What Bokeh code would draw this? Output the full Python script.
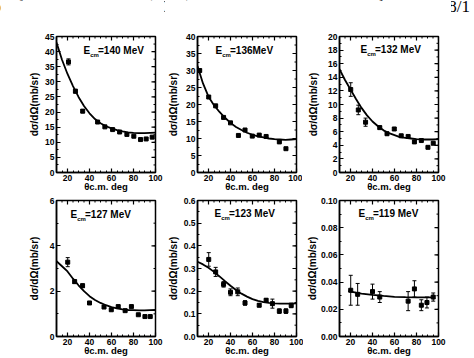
import math
from bokeh.plotting import figure
from bokeh.layouts import gridplot, column
from bokeh.models import (Range1d, FixedTicker, Label, Whisker, Div,
                          TeeHead, ColumnDataSource)
from bokeh.embed import file_html
from bokeh.resources import INLINE

FONT = "Liberation Sans"

# ---------------- data ----------------
x_ticks = [20, 40, 60, 80, 100]
x_minor = [10, 15, 20, 25, 30, 35, 40, 45, 50, 55, 60, 65, 70, 75, 80, 85, 90, 95, 100]
curve_x = [10, 15, 20, 25, 30, 35, 40, 45, 50, 55, 60, 65, 70, 75, 80, 85, 90, 95, 100]

# 140 MeV
x1 = [20.9, 27.2, 33.8, 47.4, 54.0, 61.0, 67.4, 74.0, 80.3, 86.4, 91.5, 97.0]
y1 = [36.6, 26.9, 20.3, 16.7, 15.1, 14.2, 13.4, 12.6, 12.0, 10.9, 11.1, 11.7]
e1 = [1.0, 0.6, 0.5, 0.4, 0.3, 0.3, 0.3, 0.3, 0.3, 0.3, 0.3, 0.3]
cy1 = [43.0, 37.3, 32.6, 28.6, 25.0, 22.0, 19.6, 17.7, 16.3, 15.3, 14.6, 14.0,
       13.6, 13.3, 13.1, 13.0, 13.0, 13.1, 13.2]
yt1 = [0, 5, 10, 15, 20, 25, 30, 35, 40, 45]
yl1 = ["0", "5", "10", "15", "20", "25", "30", "35", "40", "45"]
ym1 = [0, 2.5, 5, 7.5, 10, 12.5, 15, 17.5, 20, 22.5, 25, 27.5, 30, 32.5, 35, 37.5, 40, 42.5, 45]

# 136 MeV
x2 = [12.0, 20.2, 26.5, 33.7, 40.0, 47.2, 53.2, 59.8, 66.1, 72.4, 84.4, 90.4]
y2 = [30.0, 22.2, 19.6, 16.2, 14.6, 10.9, 12.5, 10.7, 11.0, 10.6, 9.0, 7.0]
e2 = [0.3, 0.3, 0.3, 0.3, 0.2, 0.2, 0.2, 0.2, 0.2, 0.2, 0.2, 0.2]
cy2 = [31.3, 26.2, 22.3, 19.8, 17.8, 16.1, 14.6, 13.4, 12.5, 11.7, 11.1, 10.6,
       10.3, 10.0, 9.8, 9.7, 9.6, 9.7, 9.8]
yt2 = [0, 5, 10, 15, 20, 25, 30, 35, 40]
yl2 = ["0", "5", "10", "15", "20", "25", "30", "35", "40"]
ym2 = [0, 2.5, 5, 7.5, 10, 12.5, 15, 17.5, 20, 22.5, 25, 27.5, 30, 32.5, 35, 37.5, 40]

# 132 MeV
x3 = [20.2, 27.1, 33.7, 46.6, 53.2, 59.8, 66.1, 72.4, 78.1, 84.4, 90.4, 95.2]
y3 = [12.2, 9.2, 7.4, 6.6, 5.7, 6.4, 5.4, 5.3, 4.5, 4.7, 3.7, 4.3]
e3 = [1.0, 0.7, 0.6, 0.2, 0.2, 0.2, 0.15, 0.15, 0.15, 0.15, 0.15, 0.15]
cy3 = [15.2, 13.6, 12.2, 10.8, 9.5, 8.4, 7.5, 6.8, 6.2, 5.8, 5.5, 5.2, 5.1, 5.0,
       4.9, 4.85, 4.85, 4.85, 4.9]
yt3 = [0, 2, 4, 6, 8, 10, 12, 14, 16, 18, 20]
yl3 = ["0", "2", "4", "6", "8", "10", "12", "14", "16", "18", "20"]
ym3 = [0, 1, 2, 3, 4, 5, 6, 7, 8, 9, 10, 11, 12, 13, 14, 15, 16, 17, 18, 19, 20]

# 127 MeV
x4 = [20.2, 26.5, 33.7, 40.0, 53.2, 59.8, 66.1, 72.4, 78.1, 84.4, 90.4, 95.2]
y4 = [3.28, 2.42, 2.24, 1.48, 1.30, 1.18, 1.32, 1.14, 1.32, 0.96, 0.88, 0.88]
e4 = [0.2, 0.08, 0.08, 0.05, 0.06, 0.04, 0.04, 0.03, 0.03, 0.03, 0.03, 0.03]
cy4 = [3.32, 3.1, 2.87, 2.55, 2.26, 2.0, 1.78, 1.61, 1.48, 1.38, 1.30, 1.24,
       1.20, 1.17, 1.16, 1.15, 1.15, 1.16, 1.17]
yt4 = [0, 2, 4, 6]
yl4 = ["0", "2", "4", "6"]
ym4 = [0, 1, 2, 3, 4, 5, 6]

# 123 MeV
x5 = [20.2, 26.5, 33.7, 40.0, 46.6, 53.2, 66.1, 72.4, 78.1, 84.4, 90.4, 95.2]
y5 = [0.34, 0.285, 0.23, 0.195, 0.197, 0.148, 0.138, 0.16, 0.145, 0.112, 0.112, 0.137]
e5 = [0.03, 0.02, 0.012, 0.015, 0.017, 0.01, 0.007, 0.007, 0.02, 0.01, 0.01, 0.01]
cy5 = [0.33, 0.318, 0.303, 0.285, 0.265, 0.244, 0.224, 0.205, 0.189, 0.176, 0.165,
       0.157, 0.152, 0.148, 0.146, 0.145, 0.145, 0.145, 0.146]
yt5 = [0.0, 0.1, 0.2, 0.3, 0.4, 0.5, 0.6]
yl5 = ["0.0", "0.1", "0.2", "0.3", "0.4", "0.5", "0.6"]
ym5 = [0.0, 0.05, 0.1, 0.15, 0.2, 0.25, 0.3, 0.35, 0.4, 0.45, 0.5, 0.55, 0.6]

# 119 MeV
x6 = [20.2, 26.5, 40.0, 46.6, 72.4, 78.1, 84.4, 89.5, 95.2]
y6 = [0.034, 0.031, 0.033, 0.029, 0.026, 0.035, 0.023, 0.025, 0.029]
e6 = [0.011, 0.008, 0.0055, 0.004, 0.007, 0.006, 0.004, 0.004, 0.003]
cx6 = [18, 25, 30, 40, 50, 60, 70, 80, 90, 95]
cy6 = [0.0333, 0.0322, 0.0316, 0.0306, 0.0298, 0.0292, 0.0289, 0.0287, 0.0287, 0.0288]
yt6 = [0.0, 0.02, 0.04, 0.06, 0.08, 0.1]
yl6 = ["0.00", "0.02", "0.04", "0.06", "0.08", "0.10"]
ym6 = [0.0, 0.01, 0.02, 0.03, 0.04, 0.05, 0.06, 0.07, 0.08, 0.09, 0.1]

energies = ["=140 MeV", "=136MeV", "=132 MeV", "=127 MeV", "=123 MeV", "=119 MeV"]
y_label = "dσ/dΩ(mb/sr)"
x_label = "θc.m. deg"
header_left = "onference Series <b>282</b> (2011) 012015"
header_right = "doi:10.1088/1"

panels = [
    (x1, y1, e1, curve_x, cy1, yt1, yl1, ym1),
    (x2, y2, e2, curve_x, cy2, yt2, yl2, ym2),
    (x3, y3, e3, curve_x, cy3, yt3, yl3, ym3),
    (x4, y4, e4, curve_x, cy4, yt4, yl4, ym4),
    (x5, y5, e5, curve_x, cy5, yt5, yl5, ym5),
    (x6, y6, e6, cx6, cy6, yt6, yl6, ym6),
]

# ---------------- layout ----------------
border_left = [56, 32, 34]
border_right = [9, 7, 15]
border_top = [36, 5]
border_bottom = [23, 23]
ylab_standoff = [2, 4, 6, 7, 2, 0]
e_pos = [(27, 19), (18, 19), (21, 18), (14, 19), (17, 18), (19, 18)]


def style_axis(ax, ticks, minor, labels):
    ax.ticker = FixedTicker(ticks=ticks, minor_ticks=minor)
    ax.major_tick_in = 4
    ax.major_tick_out = 0
    ax.minor_tick_in = 2
    ax.minor_tick_out = 0
    ax.axis_line_color = "black"
    ax.axis_line_width = 1.5
    ax.major_tick_line_color = "black"
    ax.major_tick_line_width = 1.2
    ax.minor_tick_line_color = "black"
    ax.minor_tick_line_width = 1
    ax.major_label_text_font = FONT
    ax.major_label_text_font_style = "bold"
    ax.major_label_text_color = "black"
    ax.major_label_text_font_size = "8.5px"
    ax.major_label_standoff = 2
    ax.major_label_overrides = {t: l for t, l in zip(ticks, labels)}
    ax.axis_label_text_font = FONT
    ax.axis_label_text_font_style = "bold"
    ax.axis_label_text_color = "black"


def txt(p, x, y, text, size, dx, dy):
    p.add_layout(Label(x=x, y=y, x_offset=dx, y_offset=dy, text=text,
                       text_font=FONT, text_font_style="bold",
                       text_font_size=size, text_color="black"))


figs = []
for i, (xs, ys, es, cxs, cys, yt, yl, ym) in enumerate(panels):
    r, c = divmod(i, 3)
    ymax = yt[-1]
    p = figure(frame_width=99, frame_height=136,
               x_range=Range1d(10, 100), y_range=Range1d(0, ymax),
               output_backend="svg", toolbar_location=None,
               min_border_left=border_left[c], min_border_right=border_right[c],
               min_border_top=border_top[r], min_border_bottom=border_bottom[r])
    p.grid.visible = False
    p.outline_line_color = "black"
    p.outline_line_width = 1.5
    p.background_fill_color = "white"
    p.border_fill_color = "white"

    xax = p.xaxis[0]
    style_axis(xax, x_ticks, x_minor, [str(t) for t in x_ticks])
    xax.axis_label = x_label
    xax.axis_label_text_font_size = "9.5px"
    xax.axis_label_standoff = -3

    yax = p.yaxis[0]
    style_axis(yax, yt, ym, yl)
    yax.axis_label = y_label
    yax.axis_label_text_font_size = "10px"
    yax.axis_label_standoff = ylab_standoff[i]

    # mirrored inward ticks on the top and right edges (clipped to the frame)
    p.scatter(x_ticks, [ymax] * len(x_ticks), marker="dash", angle=math.pi / 2,
              size=8, line_color="black", line_width=1.2)
    p.scatter(x_minor, [ymax] * len(x_minor), marker="dash", angle=math.pi / 2,
              size=4, line_color="black", line_width=1)
    p.scatter([100] * len(yt), yt, marker="dash", size=8,
              line_color="black", line_width=1.2)
    p.scatter([100] * len(ym), ym, marker="dash", size=4,
              line_color="black", line_width=1)

    src = ColumnDataSource(dict(x=xs, y=ys,
                                lo=[a - b for a, b in zip(ys, es)],
                                hi=[a + b for a, b in zip(ys, es)]))
    p.add_layout(Whisker(source=src, base="x", upper="hi", lower="lo",
                         line_color="black", line_width=1,
                         upper_head=TeeHead(size=4, line_color="black", line_width=1),
                         lower_head=TeeHead(size=4, line_color="black", line_width=1)))
    p.line(cxs, cys, line_color="black", line_width=1.8)
    p.scatter("x", "y", source=src, marker="square", size=4,
              fill_color="black", line_color="black")

    # energy annotation
    ex, ey = e_pos[i]
    txt(p, 10, ymax, "E", "10px", ex, -ey)
    txt(p, 10, ymax, "cm", "6px", ex + 6.7, -ey - 2.5)
    txt(p, 10, ymax, energies[i], "10px", ex + 14.5, -ey)

    figs.append(p)

grid = gridplot([figs[0:3], figs[3:6]], toolbar_location=None)

header = Div(
    text=('<div style="position:absolute;top:-2px;left:0;width:474px;'
          'white-space:nowrap;font-family:\'Liberation Serif\';'
          'font-size:17px;line-height:17px;color:black">'
          '<span style="display:inline-block;width:375px;white-space:nowrap">'
          + header_left + '</span>'
          '<span style="display:inline-block;white-space:nowrap">'
          + header_right + '</span>'
          '</div>'),
    width=450, height=0, margin=0,
    styles={"overflow": "visible", "position": "relative"})

layout = column(header, grid)

open("out.html", "w").write(file_html(layout, INLINE))
